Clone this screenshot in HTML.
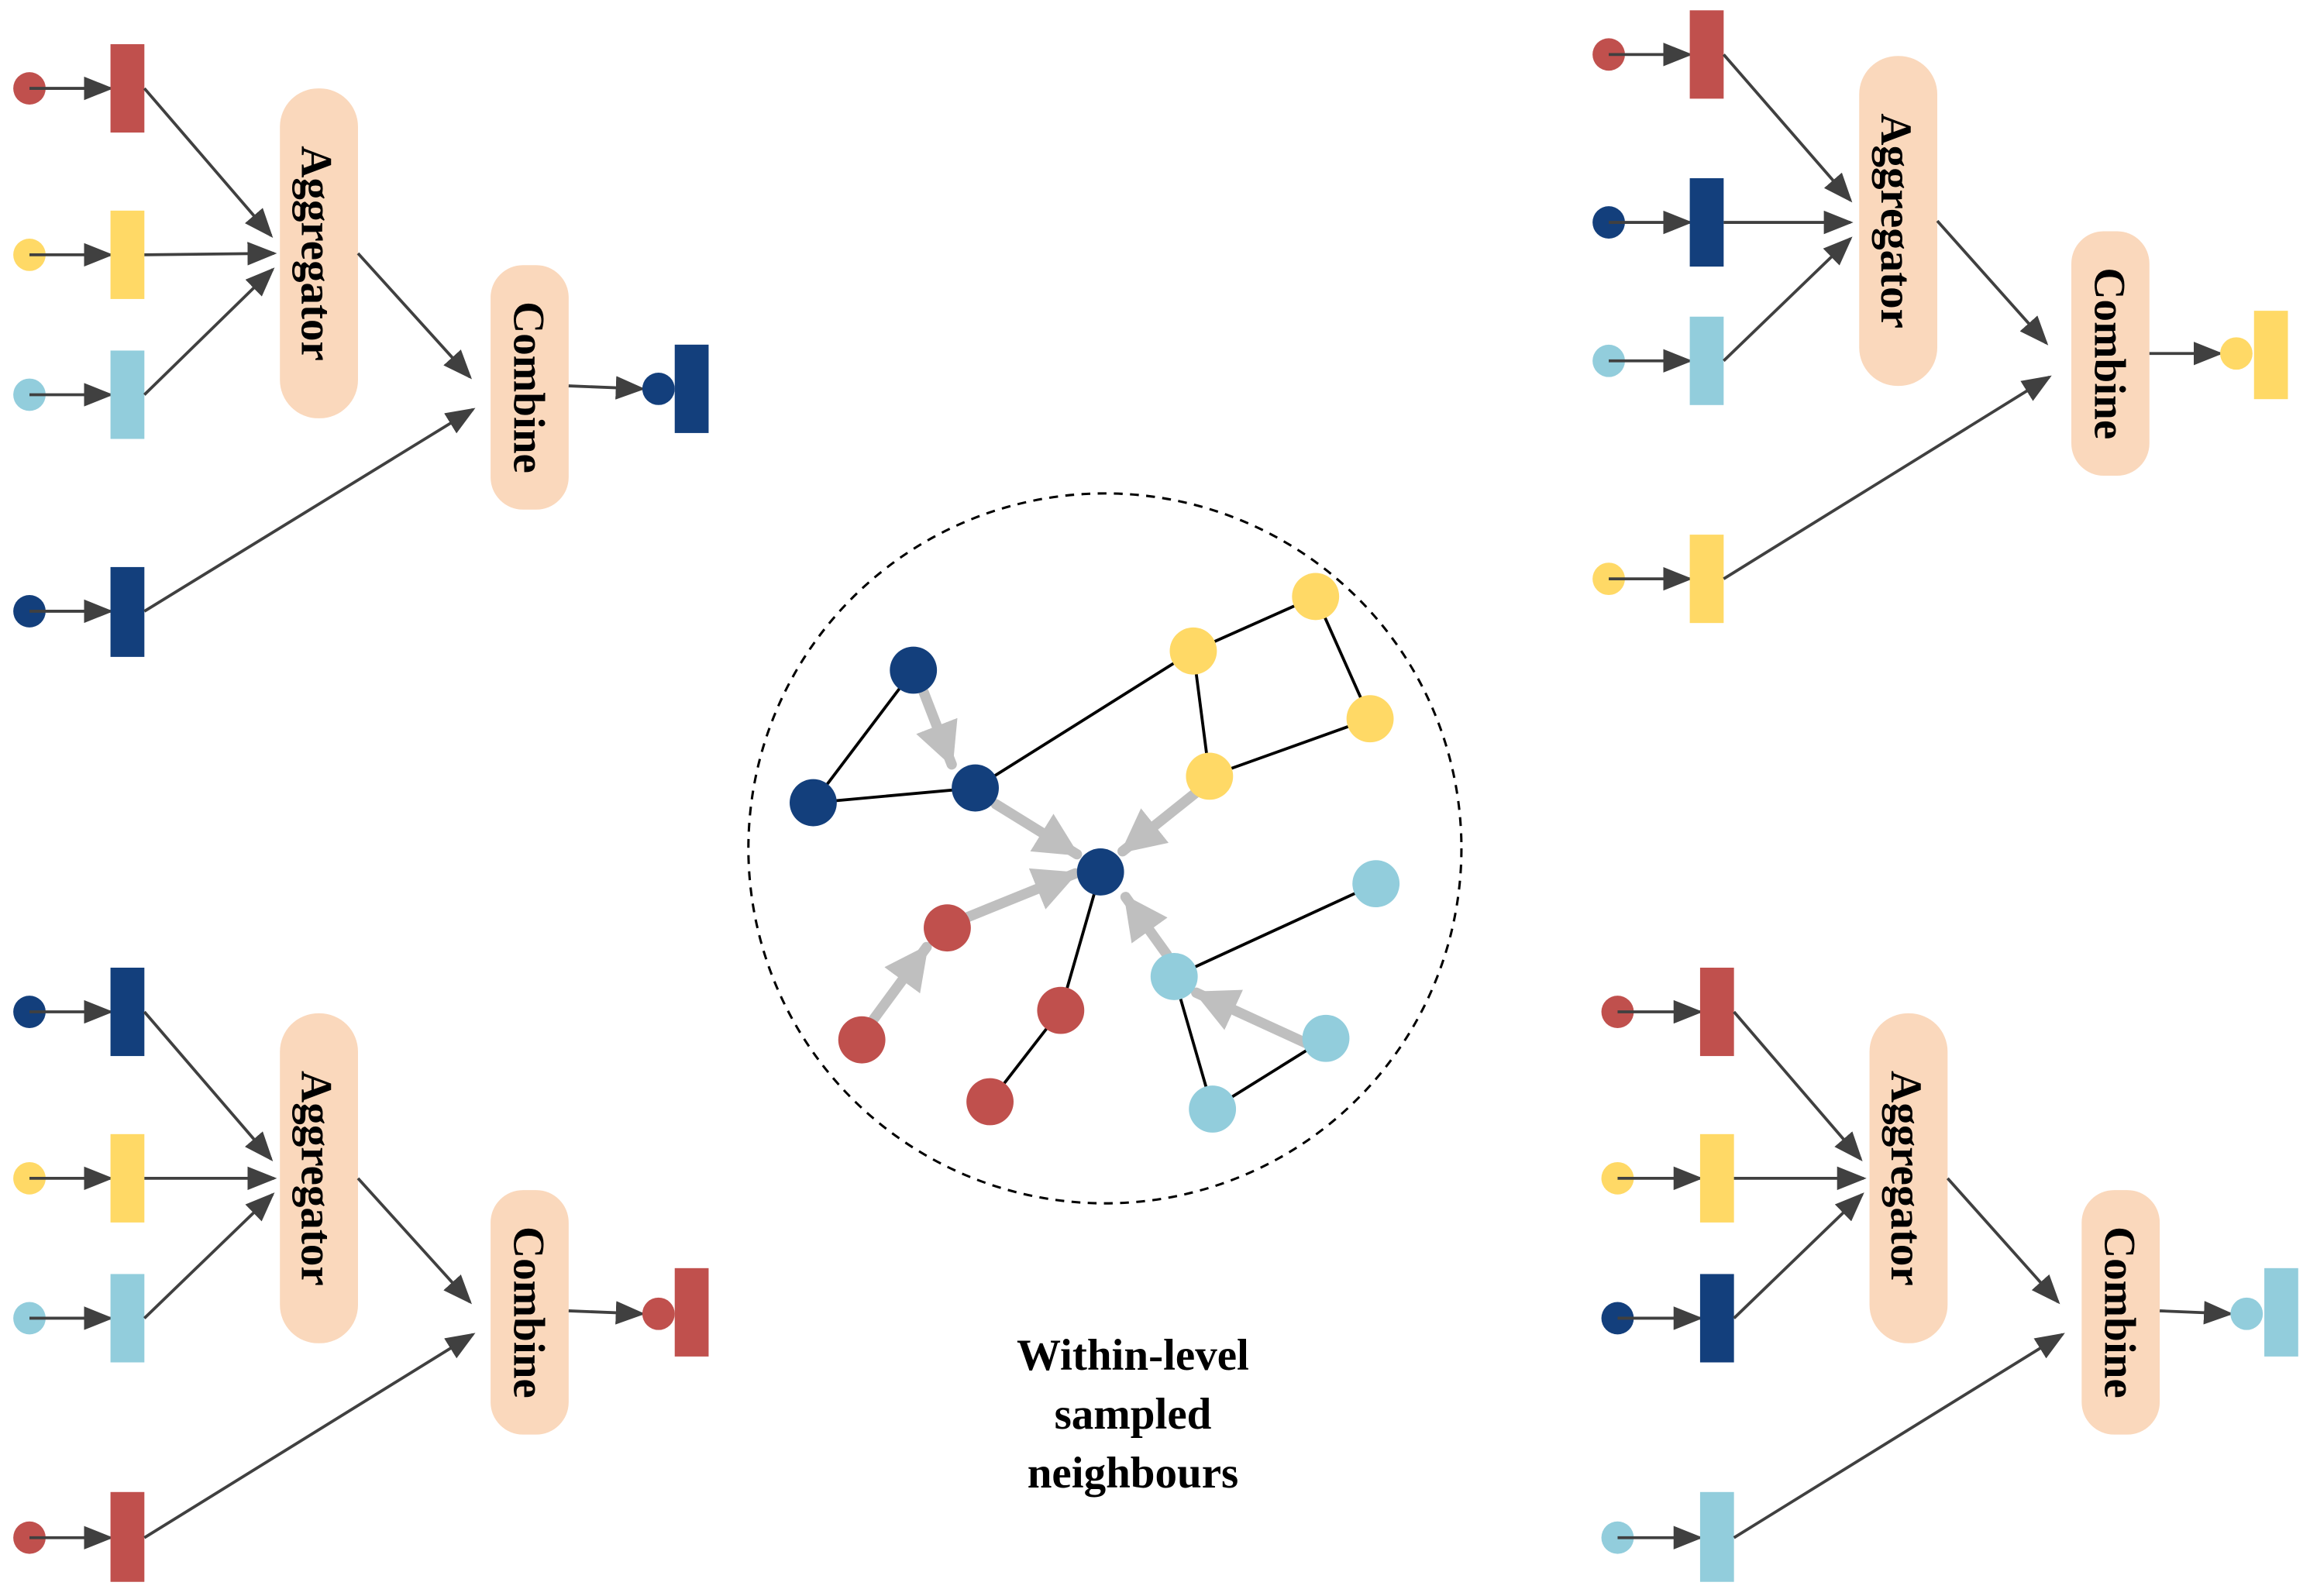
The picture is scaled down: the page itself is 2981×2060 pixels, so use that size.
<!DOCTYPE html>
<html><head><meta charset="utf-8"><style>html,body{margin:0;padding:0;background:#fff}svg{display:block}</style></head>
<body>
<svg width="2981" height="2060" viewBox="0 0 1568 1083.6" preserveAspectRatio="none" xmlns="http://www.w3.org/2000/svg">
<defs>
<marker id="a" markerUnits="userSpaceOnUse" markerWidth="20" markerHeight="16" refX="18" refY="8" orient="auto"><path d="M0,0 L20,8 L0,16 Z" fill="#404040"/></marker>
<marker id="g" markerUnits="userSpaceOnUse" markerWidth="30" markerHeight="30" refX="28" refY="15" orient="auto"><path d="M0,0 L30,15 L0,30 Z" fill="#bfbfbf"/></marker>
</defs>
<style>
.r{fill:#C0504D}.y{fill:#FFD966}.l{fill:#92CDDC}.n{fill:#133F7C}
.ar{stroke:#404040;stroke-width:2;fill:none}
.bx{fill:#FAD8BC}
.t{font-family:"Liberation Serif",serif;font-weight:bold;font-size:30px;fill:#000}
.e{stroke:#000;stroke-width:2}
.ga{stroke:#bfbfbf;stroke-width:7;stroke-linecap:round;fill:none}
</style>

<!-- Top-left -->
<g>
<circle class="r" cx="20" cy="60" r="11"/><circle class="y" cx="20" cy="173" r="11"/><circle class="l" cx="20" cy="268" r="11"/><circle class="n" cx="20" cy="415" r="11"/>
<line class="ar" x1="20" y1="60" x2="75" y2="60" marker-end="url(#a)"/>
<line class="ar" x1="20" y1="173" x2="75" y2="173" marker-end="url(#a)"/>
<line class="ar" x1="20" y1="268" x2="75" y2="268" marker-end="url(#a)"/>
<line class="ar" x1="20" y1="415" x2="75" y2="415" marker-end="url(#a)"/>
<rect class="r" x="75" y="30" width="23" height="60"/><rect class="y" x="75" y="143" width="23" height="60"/><rect class="l" x="75" y="238" width="23" height="60"/><rect class="n" x="75" y="385" width="23" height="61"/>
<rect class="bx" x="190" y="60" width="53" height="224" rx="26"/>
<rect class="bx" x="333" y="180" width="53" height="166" rx="22"/>
<text class="t" transform="translate(205,172) rotate(90)" text-anchor="middle">Aggregator</text>
<text class="t" transform="translate(349,263) rotate(90)" text-anchor="middle">Combine</text>
<line class="ar" x1="98" y1="60" x2="184" y2="160" marker-end="url(#a)"/>
<line class="ar" x1="98" y1="173" x2="186" y2="172" marker-end="url(#a)"/>
<line class="ar" x1="98" y1="268" x2="185" y2="183" marker-end="url(#a)"/>
<line class="ar" x1="243" y1="172" x2="319" y2="256" marker-end="url(#a)"/>
<line class="ar" x1="98" y1="415" x2="321" y2="278" marker-end="url(#a)"/>
<line class="ar" x1="386" y1="262" x2="436" y2="264" marker-end="url(#a)"/>
<circle class="n" cx="447" cy="264" r="11"/><rect class="n" x="458" y="234" width="23" height="60"/>
</g>

<!-- Bottom-left -->
<g>
<circle class="n" cx="20" cy="687" r="11"/><circle class="y" cx="20" cy="800" r="11"/><circle class="l" cx="20" cy="895" r="11"/><circle class="r" cx="20" cy="1044" r="11"/>
<line class="ar" x1="20" y1="687" x2="75" y2="687" marker-end="url(#a)"/>
<line class="ar" x1="20" y1="800" x2="75" y2="800" marker-end="url(#a)"/>
<line class="ar" x1="20" y1="895" x2="75" y2="895" marker-end="url(#a)"/>
<line class="ar" x1="20" y1="1044" x2="75" y2="1044" marker-end="url(#a)"/>
<rect class="n" x="75" y="657" width="23" height="60"/><rect class="y" x="75" y="770" width="23" height="60"/><rect class="l" x="75" y="865" width="23" height="60"/><rect class="r" x="75" y="1013" width="23" height="61"/>
<rect class="bx" x="190" y="688" width="53" height="224" rx="26"/>
<rect class="bx" x="333" y="808" width="53" height="166" rx="22"/>
<text class="t" transform="translate(205,800) rotate(90)" text-anchor="middle">Aggregator</text>
<text class="t" transform="translate(349,891) rotate(90)" text-anchor="middle">Combine</text>
<line class="ar" x1="98" y1="687" x2="184" y2="787" marker-end="url(#a)"/>
<line class="ar" x1="98" y1="800" x2="186" y2="800" marker-end="url(#a)"/>
<line class="ar" x1="98" y1="895" x2="185" y2="811" marker-end="url(#a)"/>
<line class="ar" x1="243" y1="800" x2="319" y2="884" marker-end="url(#a)"/>
<line class="ar" x1="98" y1="1044" x2="321" y2="906" marker-end="url(#a)"/>
<line class="ar" x1="386" y1="890" x2="436" y2="892" marker-end="url(#a)"/>
<circle class="r" cx="447" cy="892" r="11"/><rect class="r" x="458" y="861" width="23" height="60"/>
</g>

<!-- Top-right -->
<g>
<circle class="r" cx="1092" cy="37" r="11"/><circle class="n" cx="1092" cy="151" r="11"/><circle class="l" cx="1092" cy="245" r="11"/><circle class="y" cx="1092" cy="393" r="11"/>
<line class="ar" x1="1092" y1="37" x2="1147" y2="37" marker-end="url(#a)"/>
<line class="ar" x1="1092" y1="151" x2="1147" y2="151" marker-end="url(#a)"/>
<line class="ar" x1="1092" y1="245" x2="1147" y2="245" marker-end="url(#a)"/>
<line class="ar" x1="1092" y1="393" x2="1147" y2="393" marker-end="url(#a)"/>
<rect class="r" x="1147" y="7" width="23" height="60"/><rect class="n" x="1147" y="121" width="23" height="60"/><rect class="l" x="1147" y="215" width="23" height="60"/><rect class="y" x="1147" y="363" width="23" height="60"/>
<rect class="bx" x="1262" y="38" width="53" height="224" rx="26"/>
<rect class="bx" x="1406" y="157" width="53" height="166" rx="22"/>
<text class="t" transform="translate(1277,150) rotate(90)" text-anchor="middle">Aggregator</text>
<text class="t" transform="translate(1422,240) rotate(90)" text-anchor="middle">Combine</text>
<line class="ar" x1="1170" y1="37" x2="1256" y2="136" marker-end="url(#a)"/>
<line class="ar" x1="1170" y1="151" x2="1256" y2="151" marker-end="url(#a)"/>
<line class="ar" x1="1170" y1="245" x2="1256" y2="162" marker-end="url(#a)"/>
<line class="ar" x1="1315" y1="150" x2="1389" y2="233" marker-end="url(#a)"/>
<line class="ar" x1="1170" y1="393" x2="1391" y2="256" marker-end="url(#a)"/>
<line class="ar" x1="1459" y1="240" x2="1507" y2="240" marker-end="url(#a)"/>
<circle class="y" cx="1518" cy="240" r="11"/><rect class="y" x="1530" y="211" width="23" height="60"/>
</g>

<!-- Bottom-right -->
<g>
<circle class="r" cx="1098" cy="687" r="11"/><circle class="y" cx="1098" cy="800" r="11"/><circle class="n" cx="1098" cy="895" r="11"/><circle class="l" cx="1098" cy="1044" r="11"/>
<line class="ar" x1="1098" y1="687" x2="1154" y2="687" marker-end="url(#a)"/>
<line class="ar" x1="1098" y1="800" x2="1154" y2="800" marker-end="url(#a)"/>
<line class="ar" x1="1098" y1="895" x2="1154" y2="895" marker-end="url(#a)"/>
<line class="ar" x1="1098" y1="1044" x2="1154" y2="1044" marker-end="url(#a)"/>
<rect class="r" x="1154" y="657" width="23" height="60"/><rect class="y" x="1154" y="770" width="23" height="60"/><rect class="n" x="1154" y="865" width="23" height="60"/><rect class="l" x="1154" y="1013" width="23" height="61"/>
<rect class="bx" x="1269" y="688" width="53" height="224" rx="26"/>
<rect class="bx" x="1413" y="808" width="53" height="166" rx="22"/>
<text class="t" transform="translate(1284,800) rotate(90)" text-anchor="middle">Aggregator</text>
<text class="t" transform="translate(1429,891) rotate(90)" text-anchor="middle">Combine</text>
<line class="ar" x1="1177" y1="687" x2="1263" y2="787" marker-end="url(#a)"/>
<line class="ar" x1="1177" y1="800" x2="1265" y2="800" marker-end="url(#a)"/>
<line class="ar" x1="1177" y1="895" x2="1264" y2="811" marker-end="url(#a)"/>
<line class="ar" x1="1322" y1="800" x2="1397" y2="884" marker-end="url(#a)"/>
<line class="ar" x1="1177" y1="1044" x2="1400" y2="906" marker-end="url(#a)"/>
<line class="ar" x1="1466" y1="890" x2="1514" y2="892" marker-end="url(#a)"/>
<circle class="l" cx="1525" cy="892" r="11"/><rect class="l" x="1537" y="861" width="23" height="60"/>
</g>

<!-- Center -->
<ellipse cx="750" cy="576" rx="242" ry="241" fill="none" stroke="#000" stroke-width="1.6" stroke-dasharray="6,5"/>
<g>
<line class="e" x1="620" y1="455" x2="552" y2="545"/>
<line class="e" x1="552" y1="545" x2="662" y2="535"/>
<line class="e" x1="662" y1="535" x2="810" y2="442"/>
<line class="e" x1="810" y1="442" x2="893" y2="405"/>
<line class="e" x1="893" y1="405" x2="930" y2="488"/>
<line class="e" x1="810" y1="442" x2="821" y2="527"/>
<line class="e" x1="821" y1="527" x2="930" y2="488"/>
<line class="e" x1="747" y1="592" x2="720" y2="686"/>
<line class="e" x1="720" y1="686" x2="672" y2="748"/>
<line class="e" x1="797" y1="663" x2="934" y2="600"/>
<line class="e" x1="797" y1="663" x2="823" y2="753"/>
<line class="e" x1="823" y1="753" x2="900" y2="705"/>
</g>
<g>
<line class="ga" x1="627" y1="470" x2="646" y2="519" marker-end="url(#g)"/>
<line class="ga" x1="676" y1="546" x2="731" y2="580" marker-end="url(#g)"/>
<line class="ga" x1="812" y1="538" x2="762" y2="578" marker-end="url(#g)"/>
<line class="ga" x1="656" y1="623" x2="730" y2="593" marker-end="url(#g)"/>
<line class="ga" x1="593" y1="692" x2="629" y2="643" marker-end="url(#g)"/>
<line class="ga" x1="792" y1="648" x2="764" y2="609" marker-end="url(#g)"/>
<line class="ga" x1="886" y1="708" x2="812" y2="674" marker-end="url(#g)"/>
</g>
<g>
<circle class="n" cx="620" cy="455" r="16"/><circle class="n" cx="552" cy="545" r="16"/><circle class="n" cx="662" cy="535" r="16"/><circle class="n" cx="747" cy="592" r="16"/>
<circle class="y" cx="810" cy="442" r="16"/><circle class="y" cx="893" cy="405" r="16"/><circle class="y" cx="930" cy="488" r="16"/><circle class="y" cx="821" cy="527" r="16"/>
<circle class="r" cx="643" cy="630" r="16"/><circle class="r" cx="585" cy="706" r="16"/><circle class="r" cx="720" cy="686" r="16"/><circle class="r" cx="672" cy="748" r="16"/>
<circle class="l" cx="934" cy="600" r="16"/><circle class="l" cx="797" cy="663" r="16"/><circle class="l" cx="900" cy="705" r="16"/><circle class="l" cx="823" cy="753" r="16"/>
</g>
<text class="t" x="769" y="930" text-anchor="middle">Within-level</text>
<text class="t" x="769" y="970" text-anchor="middle">sampled</text>
<text class="t" x="769" y="1010" text-anchor="middle">neighbours</text>
</svg>
</body></html>
